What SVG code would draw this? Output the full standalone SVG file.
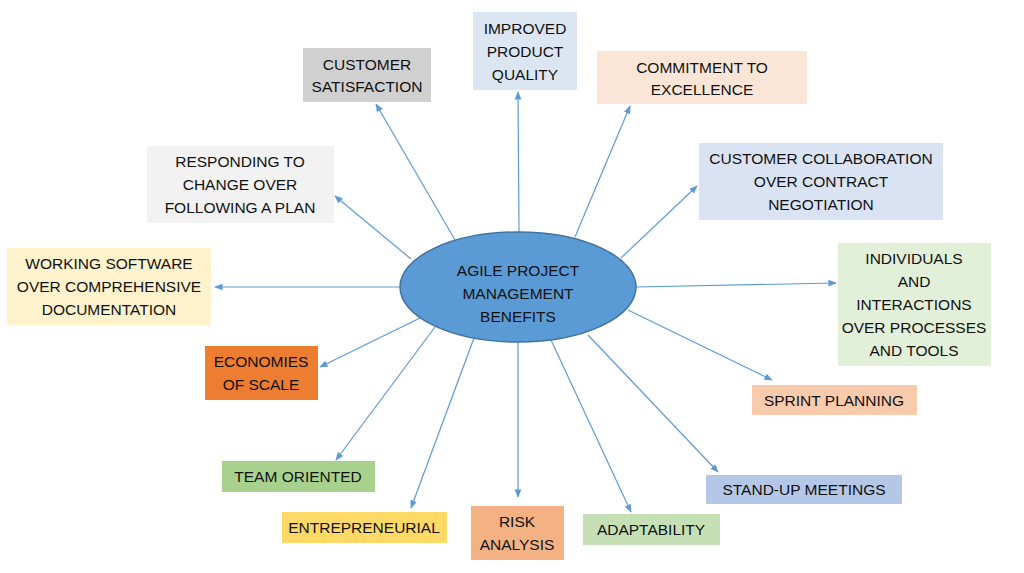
<svg xmlns="http://www.w3.org/2000/svg" width="1024" height="573" viewBox="0 0 1024 573">
<style>
text{font-family:"Liberation Sans",Arial,sans-serif;font-size:15.5px;fill:#111;text-anchor:middle}
.c line{stroke:#5b9bd5;stroke-width:1.2;marker-end:url(#a)}
</style>
<defs><marker id="a" viewBox="0 0 10 10" refX="9" refY="5" markerWidth="7" markerHeight="7" orient="auto"><path d="M0,1L10,5L0,9z" fill="#5b9bd5"/></marker></defs>
<rect width="1024" height="573" fill="#fff"/>
<g class="c">
<line x1="455" y1="240" x2="376" y2="104"/>
<line x1="519" y1="232" x2="518" y2="92"/>
<line x1="575" y1="237" x2="630" y2="106"/>
<line x1="621" y1="258" x2="697" y2="186"/>
<line x1="636" y1="287" x2="836" y2="283"/>
<line x1="628" y1="310" x2="772" y2="380"/>
<line x1="588" y1="335" x2="718" y2="472"/>
<line x1="551" y1="340" x2="631" y2="512"/>
<line x1="518" y1="342" x2="518" y2="497"/>
<line x1="474" y1="338" x2="411" y2="508"/>
<line x1="435" y1="327" x2="336" y2="460"/>
<line x1="420" y1="318" x2="320" y2="367"/>
<line x1="400" y1="287" x2="215" y2="287"/>
<line x1="411" y1="259" x2="335" y2="196"/>
</g>
<g id="center"><ellipse cx="518" cy="287" rx="118" ry="55" fill="#5b9bd5" stroke="#41719c" stroke-width="1.5"/>
<text x="518" y="276">AGILE PROJECT</text><text x="518" y="299">MANAGEMENT</text><text x="518" y="322">BENEFITS</text></g>
<g id="n1"><rect x="303" y="48" width="128" height="54" fill="#d0d0d0"/><text x="367" y="70">CUSTOMER</text><text x="367" y="92">SATISFACTION</text></g>
<g id="n2"><rect x="473" y="12" width="104" height="78" fill="#dce6f2"/><text x="525" y="34">IMPROVED</text><text x="525" y="57">PRODUCT</text><text x="525" y="80">QUALITY</text></g>
<g id="n3"><rect x="597" y="51" width="210" height="53" fill="#fbe5d6"/><text x="702" y="73">COMMITMENT TO</text><text x="702" y="95">EXCELLENCE</text></g>
<g id="n4"><rect x="699" y="143" width="244" height="77" fill="#dae3f3"/><text x="821" y="164">CUSTOMER COLLABORATION</text><text x="821" y="187">OVER CONTRACT</text><text x="821" y="210">NEGOTIATION</text></g>
<g id="n5"><rect x="838" y="243" width="153" height="123" fill="#e2f0d9"/><text x="914" y="264">INDIVIDUALS</text><text x="914" y="287">AND</text><text x="914" y="310">INTERACTIONS</text><text x="914" y="333">OVER PROCESSES</text><text x="914" y="356">AND TOOLS</text></g>
<g id="n6"><rect x="752" y="385" width="165" height="30" fill="#f8cbad"/><text x="834" y="406">SPRINT PLANNING</text></g>
<g id="n7"><rect x="706" y="475" width="196" height="29" fill="#b4c7e7"/><text x="804" y="495">STAND-UP MEETINGS</text></g>
<g id="n8"><rect x="583" y="514" width="137" height="31" fill="#c5e0b4"/><text x="651" y="535">ADAPTABILITY</text></g>
<g id="n9"><rect x="471" y="506" width="93" height="54" fill="#f4b183"/><text x="517" y="527">RISK</text><text x="517" y="550">ANALYSIS</text></g>
<g id="n10"><rect x="282" y="512" width="165" height="31" fill="#ffd966"/><text x="364" y="533">ENTREPRENEURIAL</text></g>
<g id="n11"><rect x="222" y="461" width="153" height="31" fill="#a9d18e"/><text x="298" y="482">TEAM ORIENTED</text></g>
<g id="n12"><rect x="205" y="346" width="113" height="54" fill="#ed7d31"/><text x="261" y="367">ECONOMIES</text><text x="261" y="390">OF SCALE</text></g>
<g id="n13"><rect x="7" y="248" width="204" height="77" fill="#fff2cc"/><text x="109" y="269">WORKING SOFTWARE</text><text x="109" y="292">OVER COMPREHENSIVE</text><text x="109" y="315">DOCUMENTATION</text></g>
<g id="n14"><rect x="147" y="146" width="187" height="77" fill="#f2f2f2"/><text x="240" y="167">RESPONDING TO</text><text x="240" y="190">CHANGE OVER</text><text x="240" y="213">FOLLOWING A PLAN</text></g>
</svg>
